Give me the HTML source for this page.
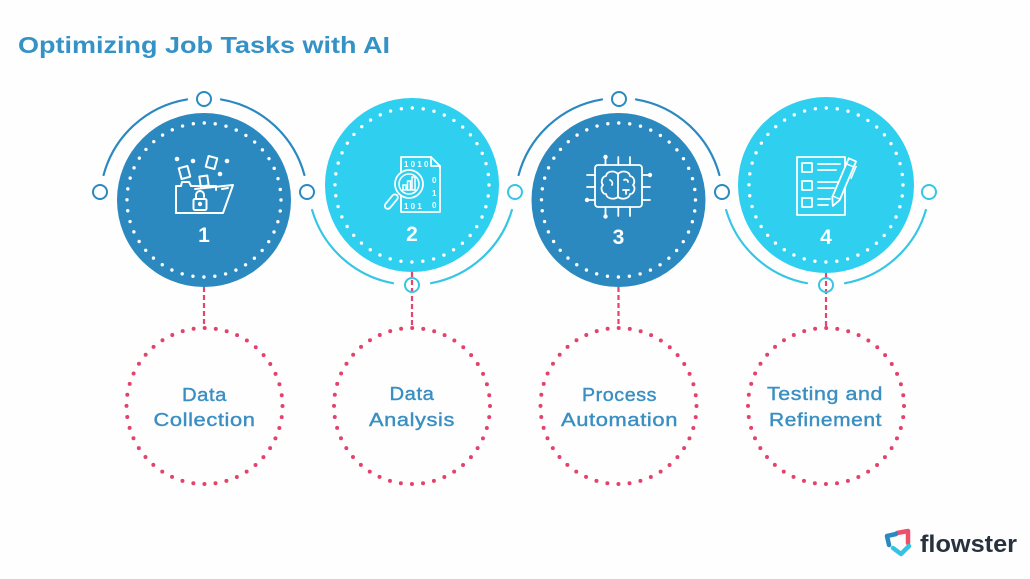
<!DOCTYPE html>
<html>
<head>
<meta charset="utf-8">
<style>
  html,body{margin:0;padding:0;background:#ffffff;}
  body{width:1030px;height:579px;overflow:hidden;}
  svg{display:block;}
  text{font-family:"Liberation Sans", sans-serif;}
</style>
</head>
<body>
<svg width="1030" height="579" viewBox="0 0 1030 579" xmlns="http://www.w3.org/2000/svg">
  <rect width="1030" height="579" fill="#fefefe"/>

  <!-- Title -->
  <text x="18" y="53" font-size="23" font-weight="bold" fill="#3592c6" textLength="372" lengthAdjust="spacingAndGlyphs">Optimizing Job Tasks with AI</text>

  <!-- Outer arcs -->
  <g fill="none" stroke-width="2.2" stroke-linecap="round">
    <path d="M103.6,175 A104,104 0 0 1 187,99.4" stroke="#2a89c0"/>
    <path d="M221,99.4 A104,104 0 0 1 304.4,175" stroke="#2a89c0"/>
    <path d="M312.1,210 A104,104 0 0 0 393,283.2" stroke="#35c6e6"/>
    <path d="M431,283.2 A104,104 0 0 0 511.9,210" stroke="#35c6e6"/>
    <path d="M518.6,175 A104,104 0 0 1 602,99.4" stroke="#2a89c0"/>
    <path d="M636,99.4 A104,104 0 0 1 719.4,175" stroke="#2a89c0"/>
    <path d="M726.1,210 A104,104 0 0 0 807,283.2" stroke="#35c6e6"/>
    <path d="M845,283.2 A104,104 0 0 0 925.9,210" stroke="#35c6e6"/>
  </g>

  <!-- Dashed connectors -->
  <g stroke="#e4456e" stroke-width="2.2" stroke-dasharray="5 3" fill="none">
    <line x1="204" y1="287" x2="204" y2="328"/>
    <line x1="412" y1="272" x2="412" y2="328"/>
    <line x1="618.5" y1="287" x2="618.5" y2="328"/>
    <line x1="826" y1="273" x2="826" y2="328"/>
  </g>

  <!-- Small ring circles -->
  <g fill="none" stroke-width="2">
    <circle cx="204" cy="99" r="7" stroke="#2a89c0"/>
    <circle cx="619" cy="99" r="7" stroke="#2a89c0"/>
    <circle cx="100" cy="192" r="7" stroke="#2a89c0"/>
    <circle cx="307" cy="192" r="7" stroke="#2a89c0"/>
    <circle cx="515" cy="192" r="7" stroke="#35c6e6"/>
    <circle cx="722" cy="192" r="7" stroke="#2a89c0"/>
    <circle cx="929" cy="192" r="7" stroke="#35c6e6"/>
    <circle cx="412" cy="285" r="7" stroke="#35c6e6"/>
    <circle cx="826" cy="285" r="7" stroke="#35c6e6"/>
  </g>

  <!-- Filled circles -->
  <circle cx="204" cy="200" r="87" fill="#2b89bf"/>
  <circle cx="412" cy="185" r="87" fill="#2fcfef"/>
  <circle cx="618.5" cy="200" r="87" fill="#2b89bf"/>
  <circle cx="826" cy="185" r="88" fill="#2fcfef"/>

  <!-- White dotted inner rings -->
  <g fill="none" stroke="#ffffff" stroke-width="3.4" stroke-linecap="round" stroke-dasharray="0 11.0">
    <circle cx="204" cy="200" r="77"/>
    <circle cx="412" cy="185" r="77"/>
    <circle cx="618.5" cy="200" r="77"/>
    <circle cx="826" cy="185" r="77"/>
  </g>

  <!-- Numbers -->
  <g font-size="21" font-weight="bold" fill="#ffffff" text-anchor="middle">
    <text x="204" y="242">1</text>
    <text x="412" y="241">2</text>
    <text x="618.5" y="244">3</text>
    <text x="826" y="244">4</text>
  </g>

  <!-- Icon 1: folder with papers and lock -->
  <g fill="none" stroke="#ffffff" stroke-width="2" stroke-linejoin="round" stroke-linecap="round">
    <path d="M176,213 L176,186 L181,186 L182,182 L189,182 L191,186 L216,186 L216,190"/>
    <path d="M195,189 L233,185 L223,213 L176,213"/>
    <path d="M222,189 L228,188"/>
    <rect x="193.5" y="199" width="13" height="11" rx="1.5"/>
    <path d="M196,199 L196,195 A4,4 0 0 1 204,195 L204,197"/>
    <circle cx="200" cy="204" r="1.2"/>
    <rect x="180" y="167" width="9" height="11" transform="rotate(-15 184.5 172.5)"/>
    <rect x="207" y="157" width="9" height="11" transform="rotate(15 211.5 162.5)"/>
    <rect x="200" y="176" width="8" height="10" transform="rotate(-8 204 181)"/>
    <circle cx="177" cy="159" r="1.3"/>
    <circle cx="193" cy="161" r="1.3"/>
    <circle cx="227" cy="161" r="1.3"/>
    <circle cx="220" cy="174" r="1.3"/>
  </g>

  <!-- Icon 2: document with magnifier -->
  <g fill="none" stroke="#ffffff" stroke-width="1.8" stroke-linejoin="round" stroke-linecap="round">
    <path d="M401,157 L431,157 L440,166 L440,212 L401,212 Z"/>
    <path d="M431,157 L431,166 L440,166"/>
  </g>
  <g font-size="8" fill="#ffffff" font-weight="bold">
    <text x="404" y="167">1 0 1 0</text>
    <text x="432" y="183">0</text>
    <text x="432" y="196">1</text>
    <text x="432" y="208">0</text>
    <text x="404" y="209">1 0 1</text>
  </g>
  <circle cx="409" cy="184" r="14" fill="#2fcfef" stroke="#ffffff" stroke-width="1.8"/>
  <circle cx="409" cy="184" r="10" fill="none" stroke="#ffffff" stroke-width="1.5"/>
  <g fill="none" stroke="#ffffff" stroke-width="1.5">
    <rect x="403" y="185" width="3" height="5"/>
    <rect x="407.5" y="181" width="3" height="9"/>
    <rect x="412" y="177" width="3" height="13"/>
  </g>
  <g transform="rotate(40 391 202)">
    <rect x="388" y="193" width="6" height="17" rx="3" fill="#2fcfef" stroke="#ffffff" stroke-width="1.8"/>
  </g>

  <!-- Icon 3: brain chip -->
  <g fill="none" stroke="#ffffff" stroke-width="1.8" stroke-linecap="round" stroke-linejoin="round">
    <rect x="595" y="165" width="47" height="42" rx="3"/>
    <line x1="605.5" y1="157" x2="605.5" y2="165"/>
    <line x1="618.3" y1="157" x2="618.3" y2="165"/>
    <line x1="630" y1="157" x2="630" y2="165"/>
    <line x1="605.5" y1="207" x2="605.5" y2="216"/>
    <line x1="618.3" y1="207" x2="618.3" y2="216"/>
    <line x1="630" y1="207" x2="630" y2="216"/>
    <line x1="587" y1="175" x2="595" y2="175"/>
    <line x1="587" y1="187" x2="595" y2="187"/>
    <line x1="587" y1="200" x2="595" y2="200"/>
    <line x1="642" y1="175" x2="650" y2="175"/>
    <line x1="642" y1="187" x2="650" y2="187"/>
    <line x1="642" y1="200" x2="650" y2="200"/>
    <path d="M618,174 C614,170 607,171 606,176 C601,177 601,183 603,185 C600,188 602,194 606,194 C607,199 614,200 618,197 Z"/>
    <path d="M618,174 C622,170 629,171 630,176 C635,177 635,183 633,185 C636,188 634,194 630,194 C629,199 622,200 618,197"/>
    <path d="M610,180 C612,181 613,183 612,185"/>
    <path d="M624,180 C626,179 628,180 628,182"/>
    <path d="M623,190 L629,190 M626,190 L626,194"/>
  </g>
  <g fill="#ffffff">
    <circle cx="605.5" cy="157" r="2.2"/>
    <circle cx="605.5" cy="216.5" r="2.2"/>
    <circle cx="587" cy="200" r="2.2"/>
    <circle cx="650" cy="175" r="2.2"/>
  </g>

  <!-- Icon 4: checklist with pencil -->
  <g fill="none" stroke="#ffffff" stroke-width="1.8" stroke-linecap="round" stroke-linejoin="round">
    <rect x="797" y="157" width="48" height="58"/>
    <rect x="802" y="163" width="10" height="9"/>
    <rect x="802" y="181" width="10" height="9"/>
    <rect x="802" y="198" width="10" height="9"/>
    <line x1="818" y1="164" x2="840" y2="164"/>
    <line x1="818" y1="170" x2="836" y2="170"/>
    <line x1="818" y1="182" x2="840" y2="182"/>
    <line x1="818" y1="188" x2="834" y2="188"/>
    <line x1="818" y1="199" x2="830" y2="199"/>
    <line x1="818" y1="205" x2="828" y2="205"/>
  </g>
  <g transform="rotate(23 843 182)">
    <path d="M839,158 L847,158 L847,200 L843,208 L839,200 Z" fill="#2fcfef" stroke="#ffffff" stroke-width="1.8" stroke-linejoin="round"/>
    <line x1="839" y1="164" x2="847" y2="164" stroke="#ffffff" stroke-width="1.5"/>
    <line x1="839" y1="199" x2="847" y2="199" stroke="#ffffff" stroke-width="1.5"/>
    <line x1="849" y1="162" x2="849" y2="176" stroke="#ffffff" stroke-width="1.5"/>
  </g>

  <!-- Red dotted circles -->
  <g fill="none" stroke="#e3426b" stroke-width="4" stroke-linecap="round" stroke-dasharray="0 11.14">
    <circle cx="204.5" cy="406" r="78"/>
    <circle cx="412" cy="406" r="78"/>
    <circle cx="618.5" cy="406" r="78"/>
    <circle cx="826" cy="406" r="78"/>
  </g>

  <!-- Labels -->
  <g font-size="18" fill="#3a8fc2" stroke="#3a8fc2" stroke-width="0.4" text-anchor="middle" letter-spacing="0.5">
    <text x="204.5" y="401" textLength="45" lengthAdjust="spacingAndGlyphs">Data</text>
    <text x="204.5" y="426" textLength="102" lengthAdjust="spacingAndGlyphs">Collection</text>
    <text x="412" y="400" textLength="45" lengthAdjust="spacingAndGlyphs">Data</text>
    <text x="412" y="426" textLength="86" lengthAdjust="spacingAndGlyphs">Analysis</text>
    <text x="619.5" y="401" textLength="75" lengthAdjust="spacingAndGlyphs">Process</text>
    <text x="619.5" y="426" textLength="117" lengthAdjust="spacingAndGlyphs">Automation</text>
    <text x="825" y="400" textLength="116" lengthAdjust="spacingAndGlyphs">Testing and</text>
    <text x="825.5" y="426" textLength="113" lengthAdjust="spacingAndGlyphs">Refinement</text>
  </g>

  <!-- Flowster logo -->
  <g fill="none" stroke-width="4.5" stroke-linecap="round" stroke-linejoin="round">
    <path d="M897,533 L908,531 L908,543" stroke="#ef4f6a"/>
    <path d="M909,546 L901,554 L893,548" stroke="#36c3e3"/>
    <path d="M889,545 L887,536 L896,534" stroke="#2b89c2"/>
  </g>
  <text x="920" y="552" font-size="24" font-weight="bold" fill="#28323e" textLength="97" lengthAdjust="spacingAndGlyphs">flowster</text>
</svg>
</body>
</html>
